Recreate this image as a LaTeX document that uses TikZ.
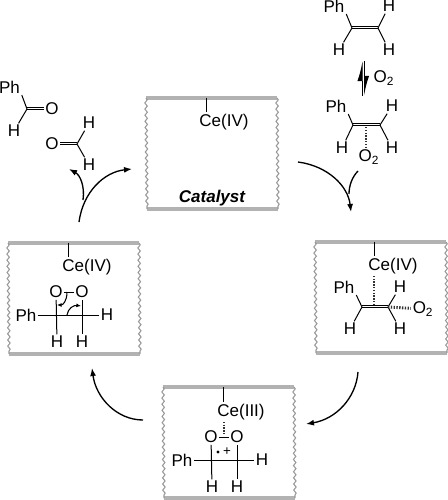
\documentclass[tikz,border=0pt]{standalone}
\usepackage{fontspec}
\setmainfont{Liberation Sans}
\usetikzlibrary{arrows.meta, decorations.pathmorphing}

\begin{document}
\begin{tikzpicture}[
    x=0.75pt, y=-0.75pt,
    atom/.style={inner sep=1.2pt, font=\fontsize{12.75}{14}\selectfont},
    bond/.style={line width=0.75pt},
    dbl/.style={line width=0.75pt, preaction={draw, transform canvas={yshift=1pt}}, transform canvas={yshift=-0.7pt}},
    hash/.style={line width=2.2pt, dash pattern=on 1pt off 1.1pt, black!80},
    bar/.style={line width=2.4pt, black!30},
    wavy/.style={line width=0.8pt, black!40, decorate, decoration={snake, segment length=4.6pt, amplitude=0.9pt}},
    arr/.style={-{Latex[length=6pt, width=4.5pt]}, line width=1pt},
    curly/.style={-{Latex[length=3.5pt, width=3pt]}, line width=0.8pt},
    half/.style={-{Latex[harpoon, length=13pt, width=7pt]}, line width=0.75pt}
]
    \useasboundingbox (0,0) rectangle (448,500);

    \foreach \x/\y in {146/98, 8/243, 315/242, 163/387} {
        \draw[bar] (\x,\y) -- ++(131,0);
        \draw[bar] (\x+1,\y+111) -- ++(131,0);
        \draw[wavy] (\x,\y) -- ++(1,111);
        \draw[wavy] (\x+131,\y) -- ++(1,111);
    }

    \node[atom] (ph1) at (9.5,87) {Ph};
    \node[atom] (h1) at (14,131) {H};
    \node[atom] (o1) at (52,109) {O};
    \coordinate (c1) at (27,109);
    \draw[bond] (ph1.south east) -- (c1);
    \draw[bond] (h1) -- (c1);
    \draw[dbl] (c1) -- (o1);

    \node[atom] (o2) at (52,144) {O};
    \node[atom] (h2a) at (89,123) {H};
    \node[atom] (h2b) at (89,165) {H};
    \coordinate (c2) at (77,144);
    \draw[dbl] (o2) -- (c2);
    \draw[bond] (c2) -- (h2a);
    \draw[bond] (c2) -- (h2b);

    \node[atom] (ph3) at (334,6) {Ph};
    \node[atom] (h3a) at (389,6) {H};
    \node[atom] (h3b) at (339,50) {H};
    \node[atom] (h3c) at (389,50) {H};
    \coordinate (c3a) at (352,28);
    \coordinate (c3b) at (378,28);
    \draw[dbl] (c3a) -- (c3b);
    \draw[bond] (ph3.south east) -- (c3a);
    \draw[bond] (h3b) -- (c3a);
    \draw[bond] (h3a) -- (c3b);
    \draw[bond] (h3c) -- (c3b);

    \coordinate (eq1) at (362,96);
    \coordinate (eq2) at (362,61);
    \coordinate (eq3) at (364.5,61);
    \coordinate (eq4) at (364.5,96);
    \draw[half] (eq1) -- (eq2);
    \draw[half] (eq3) -- (eq4);
    \node[atom] (o3) at (384,78) {O\textsubscript{2}};

    \node[atom] (ph4) at (336,106) {Ph};
    \node[atom] (h4a) at (392,106) {H};
    \node[atom] (h4b) at (342,148) {H};
    \node[atom] (h4c) at (392,148) {H};
    \node[atom] (o4) at (369,157) {O\textsubscript{2}};
    \coordinate (c4a) at (353,125);
    \coordinate (c4b) at (380,125);
    \coordinate (m4) at (366,127);
    \draw[dbl] (c4a) -- (c4b);
    \draw[bond] (ph4.south east) -- (c4a);
    \draw[bond] (h4b) -- (c4a);
    \draw[bond] (h4a) -- (c4b);
    \draw[bond] (h4c) -- (c4b);
    \draw[hash] (m4) -- (o4.north -| m4);

    \coordinate (w1) at (206,98);
    \node[atom] (ce1) at (224,122) {Ce(IV)};
    \node[atom] (cat) at (212,198) {\bfseries\itshape Catalyst};
    \draw[bond] (w1) -- (ce1.north -| w1);

    \coordinate (w2) at (374,242);
    \node[atom] (ce2) at (393,266) {Ce(IV)};
    \node[atom] (ph5) at (344,287) {Ph};
    \node[atom] (h5a) at (400,287) {H};
    \node[atom] (h5b) at (350,329) {H};
    \node[atom] (h5c) at (400,329) {H};
    \node[atom] (o5) at (423,309) {O\textsubscript{2}};
    \coordinate (c5a) at (362,307);
    \coordinate (c5b) at (388,307);
    \coordinate (m5) at (374,305);
    \draw[bond] (w2) -- (ce2.north -| w2);
    \draw[hash] (ce2.south -| m5) -- (m5);
    \draw[dbl] (c5a) -- (c5b);
    \draw[bond] (ph5.south east) -- (c5a);
    \draw[bond] (h5b) -- (c5a);
    \draw[bond] (h5a) -- (c5b);
    \draw[bond] (h5c) -- (c5b);
    \draw[hash] (c5b) -- (o5);

    \coordinate (w3) at (223,387);
    \node[atom] (ce3) at (241,412) {Ce(III)};
    \node[atom] (o6a) at (211,437) {O};
    \node[atom] (o6b) at (237,437) {O};
    \node[atom] (ph6) at (182,460) {Ph};
    \node[atom] (h6a) at (262,460) {H};
    \node[atom] (h6b) at (212,487) {H};
    \node[atom] (h6c) at (237,487) {H};
    \node[atom] (plus) at (227,452) {\fontsize{10}{10}\selectfont +};
    \node[circle, fill, inner sep=0.9pt] (dot) at (218,452) {};
    \coordinate (m6) at (224,435);
    \draw[bond] (w3) -- (ce3.north -| w3);
    \draw[hash] (ce3.south -| m6) -- (m6);
    \draw[bond] (o6a) -- (o6b);
    \draw[bond] (ph6) -- (h6a);
    \draw[bond] (o6a) -- (h6b);
    \draw[bond] (o6b) -- (h6c);

    \coordinate (w4) at (68,243);
    \node[atom] (ce4) at (87,267) {Ce(IV)};
    \node[atom] (o7a) at (56,292) {O};
    \node[atom] (o7b) at (82,292) {O};
    \node[atom] (ph7) at (26,315) {Ph};
    \node[atom] (h7a) at (107,315) {H};
    \node[atom] (h7b) at (57,342) {H};
    \node[atom] (h7c) at (82,342) {H};
    \coordinate (k1a) at (67,292);
    \coordinate (k1b) at (57,305);
    \coordinate (k2a) at (67,315);
    \coordinate (k2b) at (81,306);
    \draw[bond] (w4) -- (ce4.north -| w4);
    \draw[bond] (o7a) -- (o7b);
    \draw[bond] (ph7) -- (h7a);
    \draw[bond] (o7a) -- (h7b);
    \draw[bond] (o7b) -- (h7c);
    \draw[curly] (k1a) .. controls (67,301) and (63,305) .. (k1b);
    \draw[curly] (k2a) .. controls (68,308) and (74,305) .. (k2b);

    \coordinate (a1) at (298,162);
    \coordinate (a2) at (351,212);
    \coordinate (a3) at (358,171);
    \coordinate (a4) at (349,194);
    \draw[arr] (a1) .. controls (328,166) and (348,186) .. (a2);
    \draw[line width=1pt] (a3) .. controls (352,177) and (349,186) .. (a4);

    \coordinate (a5) at (358,372);
    \coordinate (a6) at (306,424);
    \draw[arr] (a5) .. controls (356,398) and (336,419) .. (a6);

    \coordinate (a7) at (143,420);
    \coordinate (a8) at (92,368);
    \draw[arr] (a7) .. controls (117,420) and (96,398) .. (a8);

    \coordinate (a9) at (79,222);
    \coordinate (a10) at (132,169);
    \coordinate (a11) at (83,200);
    \coordinate (a12) at (69,169);
    \draw[arr] (a9) .. controls (83,192) and (104,172) .. (a10);
    \draw[arr] (a11) .. controls (85,186) and (80,175) .. (a12);
\end{tikzpicture}
\end{document}
